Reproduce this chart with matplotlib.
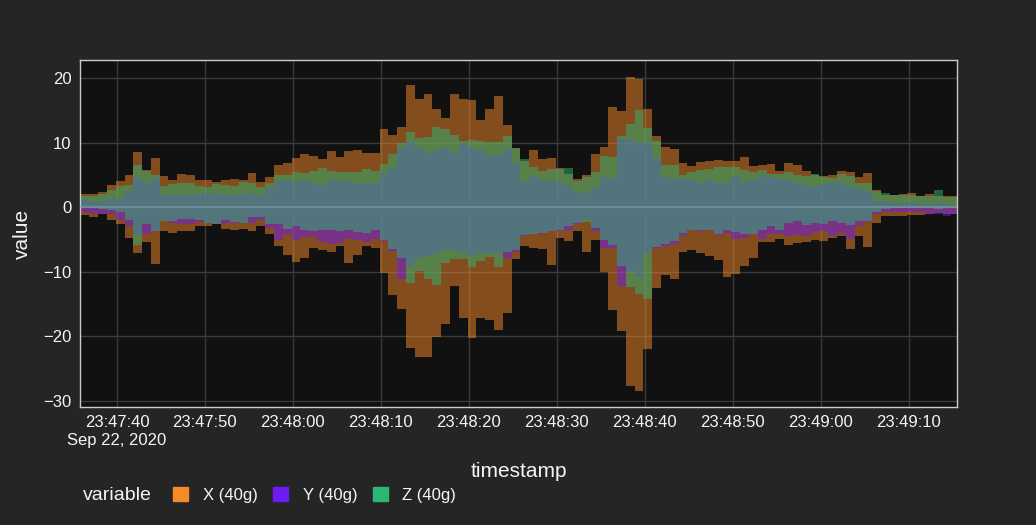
import numpy as np
import matplotlib
matplotlib.use("Agg")
import matplotlib.pyplot as plt
import matplotlib.dates as mdates
import datetime as dt

plt.rcParams['font.family'] = ['Liberation Sans', 'DejaVu Sans']

x_max = [2.0,2.0,2.3,3.4,4.0,5.0,8.5,5.7,7.6,4.8,4.2,5.1,5.0,4.2,4.2,3.9,4.2,4.3,4.2,5.3,
         3.9,4.7,6.5,6.8,7.6,8.2,7.9,7.4,8.7,7.8,8.7,8.8,8.4,8.4,12.1,11.2,12.4,18.9,16.7,17.5,
         15.2,13.8,17.5,16.7,16.6,13.5,15.2,17.2,12.7,9.1,7.1,8.8,7.4,7.6,6.0,5.1,4.3,5.0,8.2,9.3,
         15.5,14.9,20.2,19.8,15.2,11.0,9.3,9.0,6.8,6.4,7.0,7.1,7.3,7.1,7.1,7.8,6.4,6.5,6.7,5.6,
         6.8,6.5,5.6,5.0,4.8,5.0,5.6,5.4,4.7,5.3,2.6,1.9,1.9,2.0,2.2,1.7,2.0,1.7,1.7,1.7]
x_min = [-1.3,-1.5,-1.1,-2.0,-2.6,-4.8,-7.2,-5.4,-8.9,-3.7,-4.0,-3.7,-3.7,-2.9,-3.0,-2.7,-3.4,-3.5,-3.4,-3.7,
         -3.0,-4.1,-6.1,-7.4,-8.5,-7.9,-6.3,-6.6,-6.9,-6.1,-8.6,-7.4,-6.1,-6.3,-10.3,-13.7,-15.8,-21.8,-23.2,-23.2,
         -20.1,-18.1,-12.2,-17.2,-20.3,-17.2,-17.5,-19.0,-16.4,-8.1,-6.0,-6.4,-6.5,-9.0,-4.8,-5.3,-3.7,-7.0,-5.1,-10.1,
         -16.0,-19.2,-27.8,-28.5,-22.0,-12.6,-10.5,-11.2,-7.0,-6.7,-7.1,-7.6,-8.2,-10.9,-10.4,-9.1,-7.9,-5.4,-5.4,-5.0,
         -5.9,-5.6,-5.4,-5.1,-5.3,-4.8,-4.5,-6.5,-4.5,-6.2,-2.5,-1.4,-1.4,-1.4,-1.2,-1.2,-1.1,-0.9,-1.1,-1.1]
y_max = [1.2,0.8,0.9,1.2,1.4,2.5,4.5,3.7,4.5,1.9,1.8,1.9,1.8,2.1,2.2,2.0,2.0,1.9,2.0,2.2,
         1.9,2.9,4.0,4.2,3.9,4.2,3.7,3.4,4.2,4.0,4.0,3.7,3.7,3.7,5.3,6.0,9.3,10.1,9.1,8.4,
         8.7,9.1,8.4,9.9,9.1,8.8,7.9,8.1,9.0,6.8,3.9,4.8,4.0,4.0,3.9,3.3,2.3,2.2,2.9,4.7,
         4.5,10.5,10.4,9.9,9.9,7.6,4.7,4.3,4.3,4.2,3.7,4.3,3.7,3.7,4.8,3.9,4.2,5.0,4.7,4.3,
         4.2,3.7,3.4,3.3,3.6,3.7,3.9,3.1,2.8,2.5,0.9,0.9,0.6,0.6,0.8,0.5,0.5,0.6,0.5,0.3]
y_min = [-0.7,-1.0,-1.0,-1.1,-2.0,-2.9,-4.3,-4.1,-3.7,-2.0,-2.4,-2.6,-2.6,-2.3,-2.4,-2.7,-2.5,-2.4,-2.5,-2.5,
         -2.0,-3.2,-5.1,-4.1,-5.1,-4.6,-4.6,-5.4,-5.8,-5.5,-5.0,-5.1,-5.4,-5.0,-5.3,-6.8,-11.2,-9.1,-7.9,-7.6,
         -7.3,-6.7,-6.7,-7.1,-7.6,-7.1,-7.3,-7.1,-7.9,-7.0,-4.5,-4.0,-4.2,-3.7,-3.7,-3.6,-2.6,-2.0,-3.7,-6.4,
         -6.4,-12.2,-10.1,-10.9,-7.1,-6.4,-6.0,-5.7,-4.5,-3.6,-3.7,-3.6,-4.3,-4.0,-5.0,-4.8,-4.2,-5.0,-4.2,-4.2,
         -4.5,-4.3,-4.5,-4.0,-3.7,-4.5,-4.0,-5.0,-2.9,-2.3,-1.1,-0.8,-0.8,-0.8,-0.8,-0.8,-1.1,-1.1,-1.4,-1.1]
z_max = [1.7,1.7,2.0,2.6,3.3,3.4,6.5,5.6,5.0,3.3,3.6,3.7,3.7,3.3,3.1,3.6,3.4,3.3,3.9,3.7,
         3.1,3.7,5.0,5.0,5.4,5.3,5.6,6.0,5.6,5.4,5.4,5.4,5.9,5.6,6.7,8.2,9.9,11.6,10.7,10.9,
         12.4,12.1,11.2,10.2,10.4,10.2,10.1,10.1,11.0,9.1,7.4,6.2,5.6,5.9,5.9,6.0,4.0,4.7,5.4,7.9,
         7.8,11.0,12.9,15.0,12.2,10.2,6.5,6.5,5.0,5.4,5.7,5.9,6.2,6.2,6.2,5.7,5.4,5.7,5.1,5.1,
         5.4,5.0,4.8,5.1,4.7,4.5,5.1,4.8,3.7,3.7,2.5,2.2,1.9,1.9,1.9,1.7,1.7,2.6,1.5,1.5]
z_min = [-0.2,-0.2,-0.3,-0.5,-0.8,-2.0,-5.9,-2.6,-3.7,-2.2,-2.2,-1.8,-1.8,-2.0,-2.5,-2.7,-2.0,-2.3,-2.4,-1.5,
         -1.6,-2.6,-2.7,-3.4,-3.0,-3.6,-3.7,-3.5,-3.6,-3.7,-3.6,-3.9,-4.0,-3.6,-5.1,-6.5,-7.9,-11.7,-9.9,-11.2,
         -12.1,-8.7,-8.1,-8.1,-9.3,-8.4,-7.8,-9.3,-7.0,-6.6,-4.3,-4.1,-4.0,-3.7,-3.5,-3.0,-2.4,-2.3,-3.2,-5.1,
         -5.9,-9.1,-12.4,-13.5,-14.3,-6.2,-5.8,-5.3,-4.0,-3.5,-3.5,-3.6,-4.1,-3.5,-3.8,-4.1,-4.2,-3.5,-3.0,-3.5,
         -2.4,-2.2,-2.8,-2.5,-2.6,-2.2,-2.4,-2.8,-2.1,-2.2,-0.8,-0.3,-0.2,-0.2,-0.2,-0.2,-0.2,-0.3,-0.2,-0.2]

series = [("X (40g)", x_max, x_min, "#F58A2A"),
          ("Y (40g)", y_max, y_min, "#6E1AF0"),
          ("Z (40g)", z_max, z_min, "#2DB574")]

t0 = dt.datetime(2020, 9, 22, 23, 47, 36, 360000)
times = [t0 + dt.timedelta(seconds=i) for i in range(len(x_max))]
tnum = mdates.date2num(times)
width = 1.0 / 86400

fg = "#f2f5fa"
fig = plt.figure(figsize=(10.36, 5.25), dpi=100, facecolor="#252525")
ax = fig.add_axes([80/1036, 1-407/525, 877/1036, 347/525])
ax.set_facecolor("#111111")

handles = []
for name, vmax, vmin, c in series:
    ax.bar(tnum, vmax, width=width, color=c, alpha=0.5, linewidth=0, zorder=2)
    ax.bar(tnum, vmin, width=width, color=c, alpha=0.5, linewidth=0, zorder=2)
    handles.append(plt.Rectangle((0, 0), 1, 1, facecolor=c, edgecolor=c))

ax.axhline(0, color="#8aa0b0", lw=1.5, alpha=0.5, zorder=3)
ax.set_ylim(-31.0, 22.8)
ax.set_xlim(mdates.date2num(dt.datetime(2020, 9, 22, 23, 47, 35, 800000)),
            mdates.date2num(dt.datetime(2020, 9, 22, 23, 49, 15, 500000)))
ax.set_yticks([-30, -20, -10, 0, 10, 20])
ax.set_yticklabels(["\u221230", "\u221220", "\u221210", "0", "10", "20"])
ax.xaxis.set_major_locator(mdates.SecondLocator(bysecond=range(0, 60, 10)))
def fmt(x, pos):
    d = mdates.num2date(x)
    s = d.strftime("%H:%M:%S")
    if pos == 0:
        s += "\nSep 22, 2020"
    return s
ax.xaxis.set_major_formatter(plt.FuncFormatter(fmt))
ax.grid(True, color="#3a3a3a", lw=1, zorder=0)
ax.set_axisbelow(True)
ax.tick_params(colors=fg, labelsize=12, length=0, pad=6)
for s in ax.spines.values():
    s.set_color("#cccccc"); s.set_linewidth(1)
ax.set_ylabel("value", color=fg, fontsize=15, labelpad=8)
ax.set_xlabel("timestamp", color=fg, fontsize=15, labelpad=10)

fig.text(83/1036, 1-495/525, "variable", color=fg, fontsize=14, va="center")
fig.legend(handles, [s[0] for s in series], loc="center left",
           bbox_to_anchor=(158/1036, 1-495/525), ncol=3, frameon=False,
           labelcolor=fg, fontsize=12, handlelength=0.9, handleheight=0.9,
           columnspacing=0.9, handletextpad=0.9)
fig.savefig("out.png", dpi=100, facecolor=fig.get_facecolor())
